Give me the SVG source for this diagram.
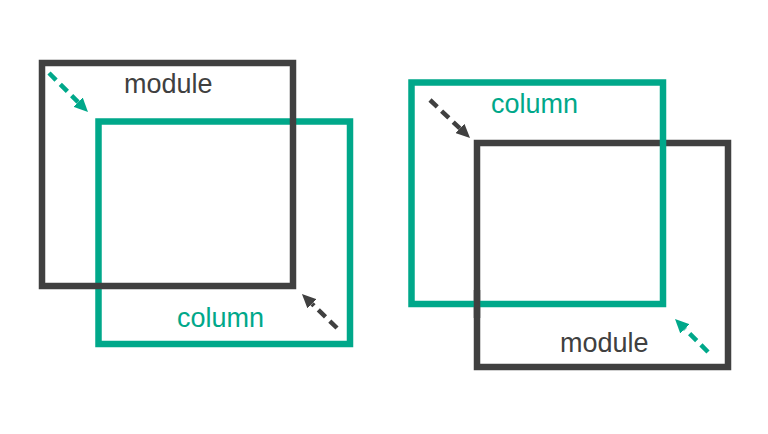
<svg xmlns="http://www.w3.org/2000/svg" width="768" height="434" viewBox="0 0 768 434">
<style>
.dk{fill:none;stroke:#404040;stroke-width:6.5}
.tl{fill:none;stroke:#00a88a;stroke-width:6.5}
.adk{fill:none;stroke:#404040;stroke-width:4.5;stroke-dasharray:10 6}
.atl{fill:none;stroke:#00a88a;stroke-width:4.5;stroke-dasharray:10 6}
.t{font-family:"Liberation Sans",Arial,sans-serif;font-size:27px}
.tdk{fill:#404040}
.ttl{fill:#00a88a}
</style>
<defs>
<marker id="hdk" viewBox="0 0 14 13" markerWidth="14" markerHeight="13" refX="0" refY="6.5" orient="auto" markerUnits="userSpaceOnUse"><path d="M0,0 L14,6.5 L0,13 z" fill="#404040"/></marker>
<marker id="htl" viewBox="0 0 14 13" markerWidth="14" markerHeight="13" refX="0" refY="6.5" orient="auto" markerUnits="userSpaceOnUse"><path d="M0,0 L14,6.5 L0,13 z" fill="#00a88a"/></marker>
</defs>
<rect width="768" height="434" fill="#ffffff"/>
<g id="left-column">
<rect class="tl" x="98.5" y="121.5" width="251.5" height="222.5"/>
<text class="t ttl" x="177" y="327">column</text>
</g>
<g id="left-module">
<rect class="dk" x="42" y="63" width="251" height="223"/>
<text class="t tdk" x="124" y="93">module</text>
</g>
<g id="right-module">
<rect class="dk" x="477" y="143" width="251" height="224"/>
<text class="t tdk" x="560" y="352">module</text>
</g>
<g id="right-column">
<rect class="tl" x="411.5" y="82.5" width="251.5" height="221.5"/>
<text class="t ttl" x="491" y="113">column</text>
</g>
<g id="right-module-overlap">
<line x1="477" y1="290" x2="477" y2="318" stroke="#404040" stroke-width="6.5"/>
</g>
<g id="connectors">
<line class="atl" x1="49" y1="73" x2="78.1" y2="102.1" marker-end="url(#htl)"/>
<line class="adk" x1="337" y1="328" x2="312" y2="303.8" marker-end="url(#hdk)"/>
<line class="adk" x1="430" y1="100" x2="459.9" y2="128.4" marker-end="url(#hdk)"/>
<line class="atl" x1="708" y1="352" x2="684.9" y2="328.9" marker-end="url(#htl)"/>
</g>
</svg>
